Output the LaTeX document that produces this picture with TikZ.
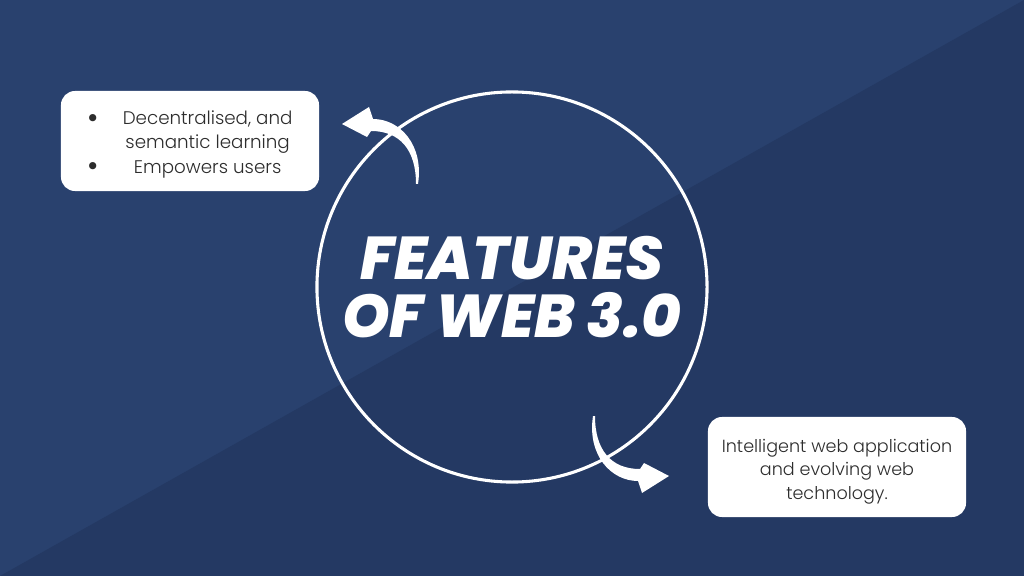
\documentclass[tikz,border=0pt]{standalone}
\usepackage{fontspec}
\setmainfont{Poppins}
\newfontfamily\lightfont{Poppins Light}
\newfontfamily\titlefont{Poppins ExtraBold Italic}
\usetikzlibrary{positioning}
\definecolor{bgtop}{RGB}{41,65,110}
\definecolor{bgbottom}{RGB}{36,57,99}
\definecolor{boxtext}{RGB}{45,45,45}
\tikzset{
    featbox/.style={rectangle, rounded corners=10pt, fill=white, minimum width=6.45cm, minimum height=2.5cm, text centered, align=center, text=boxtext, font=\lightfont\fontsize{12.5}{16.5}\selectfont},
    ring/.style={circle, draw=white, line width=2.2pt, minimum size=9.75cm, align=center, text=white, font=\titlefont\fontsize{43}{41}\selectfont},
    swoosh/.style={fill=white}
}
\newcommand{\bigdot}{\raisebox{-2.6pt}[0pt][0pt]{\scalebox{1.7}{\textbullet}}}
% curved arrow, drawn in pixel units
\newcommand{\swooshpath}{(418,184) .. controls (424,145) and (400,119) .. (373,119) -- (369,107) -- (342,124) -- (367,137) -- (371,131) .. controls (400,131) and (416,150) .. (416,184) -- cycle}

\begin{document}
\begin{tikzpicture}[x=0.025cm, y=-0.025cm]
    % Background, split along the diagonal
    \fill[bgtop] (0,0) rectangle (1024,576);
    \fill[bgbottom] (1024,0) -- (1024,576) -- (0,576) -- cycle;
    \useasboundingbox (0,0) rectangle (1024,576);

    % Centre ring with title
    \node (hub) [ring] at (512,287) {FEATURES\\OF WEB 3.0};

    % Feature boxes
    \node (feat1) [featbox, font=\lightfont\fontsize{13}{17.3}\selectfont] at (190,141) {%
        \raisebox{-2pt}[\height][\depth]{\begin{tabular}{@{}c@{\hspace{17pt}}c@{}}
        \bigdot & Decentralised, and\\
                & semantic learning\\
        \bigdot & Empowers users
        \end{tabular}}};
    \node (feat2) [featbox] at (837,467) {%
        \raisebox{-3pt}[\height][\depth]{\begin{tabular}{@{}c@{}}
        Intelligent web application\\and evolving web\\technology.
        \end{tabular}}};

    % Arrows
    \fill[swoosh] \swooshpath;
    \begin{scope}[rotate around={180:(505.5,300)}]
        \fill[swoosh] \swooshpath;
    \end{scope}
\end{tikzpicture}
\end{document}
